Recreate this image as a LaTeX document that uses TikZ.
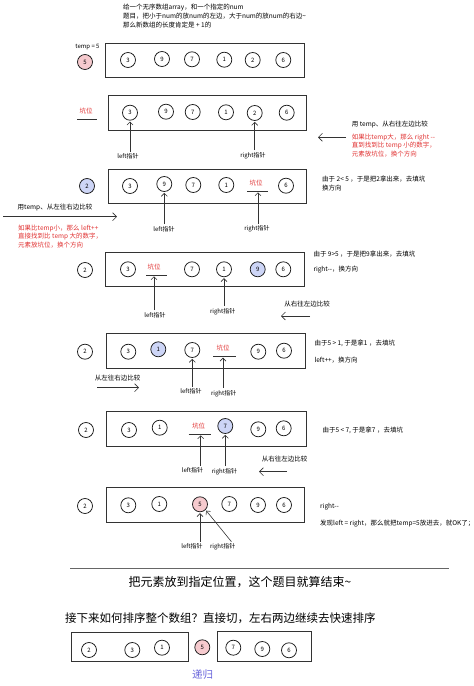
\documentclass[tikz,border=0pt]{standalone}
\usepackage{fontspec}
\setmainfont{Noto Sans CJK SC}
\usepackage{tikz}
\usetikzlibrary{arrows.meta}
\definecolor{tempred}{HTML}{F6CACE}
\definecolor{pickblue}{HTML}{CDD5F6}
\definecolor{holered}{HTML}{E03131}
\definecolor{notered}{HTML}{E03131}
\definecolor{recblue}{HTML}{6965DB}

\begin{document}
\begin{tikzpicture}[x=1pt,y=1pt]
\tikzstyle{every node}+=[inner sep=0pt]
\tikzstyle{num}=[circle,draw=black!90,line width=0.75pt,minimum size=15pt,font=\fontsize{6}{6}\selectfont]
\tikzstyle{tempnum}=[num,fill=tempred]
\tikzstyle{picked}=[num,fill=pickblue]
\tikzstyle{box}=[draw=black!80,line width=0.7pt]
\tikzstyle{hole}=[text=holered,font=\fontsize{6.5}{7}\selectfont]
\tikzstyle{gap}=[draw=black!80,line width=0.6pt]
\tikzstyle{ptr}=[draw=black!80,line width=0.6pt,shorten <=2pt,shorten >=1pt,-{Straight Barb[length=3pt,width=6pt]}]
\tikzstyle{dir}=[draw=black!80,line width=0.6pt,-{Straight Barb[length=4pt,width=8pt]}]
\tikzstyle{tag}=[font=\fontsize{6}{7}\selectfont]
\tikzstyle{note}=[anchor=west,align=left,font=\fontsize{6.5}{8.6}\selectfont]
\tikzstyle{rednote}=[note,text=notered]
\tikzstyle{big}=[font=\fontsize{12}{14}\selectfont]
\useasboundingbox (0,0) rectangle (474,-686);
% first row: the array and temp
\node[note] (intro) at (123,-16) {给一个无序数组array，和一个指定的num\\题目，把小于num的放num的左边，大于num的放num的右边\textasciitilde\\那么新数组的长度肯定是 + 1的};
\node[tag] (tmp) at (87.5,-47.3) {temp = 5};
\node[tempnum] (t1) at (85,-62) {5};
\draw[box] (105.7,-43.3) rectangle (304,-77.3);
\node[num] (a11) at (128,-60) {3};
\node[num] (a12) at (162,-59) {9};
\node[num] (a13) at (192,-59.3) {7};
\node[num] (a14) at (224.3,-59.7) {1};
\node[num] (a15) at (252.7,-60) {2};
\node[num] (a16) at (283.3,-60) {6};
% second row
\node[hole] (k2) at (86,-111) {坑位};
\draw[gap] ([xshift=-9pt,yshift=-8.3pt]k2.center) -- ([xshift=11pt,yshift=-8.3pt]k2.center);
\draw[box] (108.3,-95) rectangle (306,-130);
\node[num] (a21) at (130,-112.7) {3};
\node[num] (a22) at (166,-111.7) {9};
\node[num] (a23) at (192.7,-112) {7};
\node[num] (a24) at (226,-112.3) {1};
\node[num] (a25) at (254.7,-113) {2};
\node[num] (a26) at (286.7,-112.7) {6};
\node[tag] (lp2) at (128,-156.7) {left指针};
\node[tag] (rp2) at (253,-155.7) {right指针};
\draw[ptr] (a21.south |- lp2.north) -- (a21.south);
\draw[ptr] (a25.south |- rp2.north) -- (a25.south);
\node[note] (n2) at (351.7,-124) {用 temp、从右往左边比较};
\node[rednote] (m2) at (351.7,-145.3) {如果比temp大，那么 right -{}-\\直到找到比 temp 小的数字，\\元素放坑位，换个方向};
\coordinate (d2a) at (346,-137.3);
\coordinate (d2b) at (318,-137.3);
\draw[dir] (d2a) -- (d2b);
% third row
\node[picked] (t3) at (87,-186) {2};
\draw[box] (108.3,-169) rectangle (306.7,-203.3);
\node[num] (a31) at (130,-186) {3};
\node[num] (a32) at (164.3,-184) {9};
\node[num] (a33) at (193.3,-185) {7};
\node[num] (a34) at (226.3,-185) {1};
\node[hole] (k3) at (256,-183) {坑位};
\draw[gap] ([xshift=-9pt,yshift=-8.3pt]k3.center) -- ([xshift=12pt,yshift=-8.3pt]k3.center);
\node[num] (a36) at (286,-185.7) {6};
\node[tag] (lp3) at (164,-229) {left指针};
\node[tag] (rp3) at (257,-229) {right指针};
\draw[ptr] (a32.south |- lp3.north) -- (a32.south);
\draw[ptr] ([xshift=2pt]k3.center |- rp3.north) -- ([xshift=2pt,yshift=-8.3pt]k3.center);
\node[note] (n3) at (322,-183.7) {由于 2< 5 ，于是把2拿出来，去填坑\\换方向};
\node[font=\fontsize{6.5}{7}\selectfont] (c3) at (55,-207.3) {用temp、从左往右边比较};
\coordinate (d3a) at (3,-216.7);
\coordinate (d3b) at (117,-216.7);
\draw[dir] (d3a) -- (d3b);
\node[rednote] (m3) at (18,-236.3) {如果比temp小，那么 left++\\直接找到比 temp 大的数字，\\元素放坑位，换个方向};
% fourth row
\node[num] (t4) at (85,-270) {2};
\draw[box] (105.7,-252.3) rectangle (304,-286.7);
\node[num] (a41) at (128,-269.3) {3};
\node[hole] (k4) at (154,-267.3) {坑位};
\draw[gap] ([xshift=-8pt,yshift=-8pt]k4.center) -- ([xshift=13pt,yshift=-8pt]k4.center);
\node[num] (a43) at (192,-269.3) {7};
\node[num] (a44) at (224,-269.3) {1};
\node[picked] (a45) at (257.7,-269.3) {9};
\node[num] (a46) at (283.3,-269.3) {6};
\node[tag] (lp4) at (155,-315) {left指针};
\node[tag] (rp4) at (222.7,-311.7) {right指针};
\draw[ptr] (k4.center |- lp4.north) -- ([yshift=-8pt]k4.center);
\draw[ptr] (a44.south |- rp4.north) -- (a44.south);
\node[note] (n4a) at (313.3,-254) {由于 9>5 ，于是把9拿出来，去填坑};
\node[note] (n4b) at (313.3,-270) {right-{}-，换方向};
\node[font=\fontsize{6.5}{7}\selectfont] (c4) at (307,-304) {从右往左边比较};
\coordinate (d4a) at (310,-316);
\coordinate (d4b) at (281,-316);
\draw[dir] (d4a) -- (d4b);
% fifth row
\node[num] (t5) at (85,-351.7) {2};
\draw[box] (106,-333.3) rectangle (305,-368.3);
\node[num] (a51) at (128.3,-351.7) {3};
\node[picked] (a52) at (158.3,-349.3) {1};
\node[num] (a53) at (192.3,-350) {7};
\node[hole] (k5) at (223,-347.7) {坑位};
\draw[gap] ([xshift=-10pt,yshift=-9pt]k5.center) -- ([xshift=13pt,yshift=-9pt]k5.center);
\node[num] (a55) at (258.3,-351.7) {9};
\node[num] (a56) at (284,-350.7) {6};
\node[tag] (lp5) at (191,-391.7) {left指针};
\node[tag] (rp5) at (223.7,-393.3) {right指针};
\draw[ptr] (a53.south |- lp5.north) -- (a53.south);
\draw[ptr] (k5.center |- rp5.north) -- ([yshift=-9pt]k5.center);
\node[note] (n5a) at (314.3,-343.3) {由于5 > 1, 于是拿1 ，去填坑};
\node[note] (n5b) at (314.3,-360) {left++，换方向};
\node[font=\fontsize{6.5}{7}\selectfont] (c5) at (117.5,-377.7) {从左往右边比较};
\coordinate (d5a) at (97,-387.7);
\coordinate (d5b) at (139,-387.7);
\draw[dir] (d5a) -- (d5b);
% sixth row
\node[num] (t6) at (86,-430) {2};
\draw[box] (106.7,-411.7) rectangle (306,-446.7);
\node[num] (a61) at (129,-430) {3};
\node[num] (a62) at (159.7,-427.7) {1};
\node[hole] (k6) at (198.7,-426) {坑位};
\draw[gap] ([xshift=-10pt,yshift=-8.3pt]k6.center) -- ([xshift=12pt,yshift=-8.3pt]k6.center);
\node[picked] (a64) at (225.3,-426) {7};
\node[num] (a65) at (258.3,-429.3) {9};
\node[num] (a66) at (283.7,-428.3) {6};
\node[tag] (lp6) at (192.5,-470.7) {left指针};
\node[tag] (rp6) at (224.5,-471.7) {right指针};
\draw[ptr] ([xshift=2pt]k6.center |- lp6.north) -- ([xshift=2pt,yshift=-8.3pt]k6.center);
\draw[ptr] (a64.south |- rp6.north) -- (a64.south);
\node[note] (n6) at (322.3,-430) {由于5 < 7, 于是拿7 ，去填坑};
\node[font=\fontsize{6.5}{7}\selectfont] (c6) at (284.7,-459) {从右往左边比较};
\coordinate (d6a) at (287,-471.7);
\coordinate (d6b) at (259,-471.7);
\draw[dir] (d6a) -- (d6b);
% seventh row
\node[num] (t7) at (85,-506) {2};
\draw[box] (106,-487.3) rectangle (304,-522.3);
\node[num] (a71) at (128.3,-505.3) {3};
\node[num] (a72) at (159.3,-504) {1};
\node[tempnum] (a73) at (200,-504.3) {5};
\node[num] (a74) at (229.3,-504) {7};
\node[num] (a75) at (258,-505) {9};
\node[num] (a76) at (284,-505) {6};
\node[tag] (lp7) at (192,-546.7) {left指针};
\node[tag] (rp7) at (222.7,-546.7) {right指针};
\draw[ptr] (a73.south |- lp7.north) -- (a73.south);
\draw[ptr] ([xshift=10pt]rp7.north) -- (a73.south east);
\node[note] (n7a) at (320,-506.7) {right-{}-};
\node[note] (n7b) at (320,-523.3) {发现left = right，那么就把temp=5放进去，就OK了；};
% end
\draw[draw=black!60,line width=1.2pt] (70,-568.5) -- (449,-568.5);
\node[big] (fin) at (240,-581.7) {把元素放到指定位置，这个题目就算结束\textasciitilde};
\node[font=\fontsize{11.5}{14}\selectfont] (next) at (220.3,-618.3) {接下来如何排序整个数组？直接切，左右两边继续去快速排序};
\draw[box] (71.3,-632.7) rectangle (188.3,-661.7);
\draw[box] (217,-631.7) rectangle (311,-661.7);
\node[num] (b1) at (89,-650) {2};
\node[num] (b2) at (132.3,-650) {3};
\node[num] (b3) at (162,-647.7) {1};
\node[tempnum] (bt) at (202.3,-647.3) {5};
\node[num] (b5) at (233.3,-647.7) {7};
\node[num] (b6) at (262.3,-649) {9};
\node[num] (b7) at (289,-650.3) {6};
\node[text=recblue,font=\fontsize{10.5}{12}\selectfont] (rec) at (202.5,-674.3) {递归};
\end{tikzpicture}
\end{document}
